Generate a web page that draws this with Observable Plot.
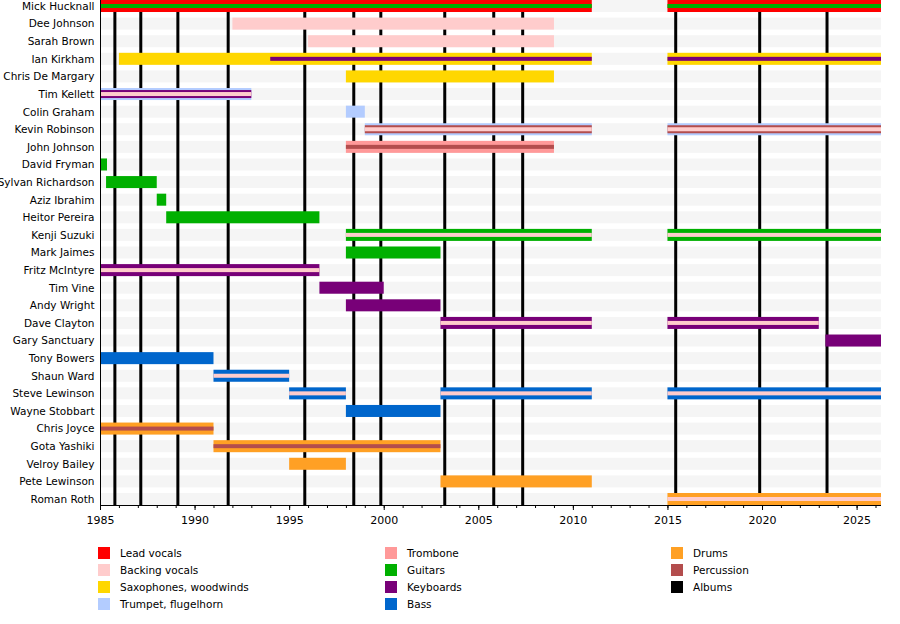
<!DOCTYPE html>
<html>
<head>
<meta charset="utf-8">
<script src="https://cdn.jsdelivr.net/npm/d3@7"></script>
<script src="https://cdn.jsdelivr.net/npm/@observablehq/plot@0.6"></script>
<style>
  body { margin: 0; background: #fff; font-family: "DejaVu Sans", sans-serif; }
  #wrap { position: relative; width: 900px; height: 624px; overflow: hidden; }
  #legend { position: absolute; left: 0; top: 547px; width: 900px; height: 70px; }
  .item { position: absolute; height: 12px; display: flex; align-items: center; font-size: 10.5px; color: #000; white-space: nowrap; }
  .sw { width: 12px; height: 12px; margin-right: 10px; flex: none; }
</style>
</head>
<body>
<div id="wrap">
  <div id="chart"></div>
  <div id="legend"></div>
</div>
<script>
// Band members, top to bottom
const members = [
  "Mick Hucknall", "Dee Johnson", "Sarah Brown", "Ian Kirkham", "Chris De Margary",
  "Tim Kellett", "Colin Graham", "Kevin Robinson", "John Johnson", "David Fryman",
  "Sylvan Richardson", "Aziz Ibrahim", "Heitor Pereira", "Kenji Suzuki", "Mark Jaimes",
  "Fritz McIntyre", "Tim Vine", "Andy Wright", "Dave Clayton", "Gary Sanctuary",
  "Tony Bowers", "Shaun Ward", "Steve Lewinson", "Wayne Stobbart", "Chris Joyce",
  "Gota Yashiki", "Velroy Bailey", "Pete Lewinson", "Roman Roth"
];

// Roles and their colours
const roles = [
  "Lead vocals", "Backing vocals", "Saxophones, woodwinds", "Trumpet, flugelhorn",
  "Trombone", "Guitars", "Keyboards", "Bass",
  "Drums", "Percussion", "Albums"
];
const roleColors = [
  "#ff0000", "#ffcccc", "#ffd700", "#b3ccff",
  "#ff9999", "#00b000", "#780078", "#0066cc",
  "#ffa024", "#b34d4d", "#000000"
];

// Studio album release dates (fractional years)
const albumYears = [
  1985.76, 1987.13, 1989.09, 1991.75, 1995.8, 1998.39, 1999.82,
  2003.2, 2005.79, 2007.32, 2015.41, 2019.85, 2023.41
];

const startYear = 1985;
const present = 2026.29;

// Primary role of each stint: [member, role, from, to]
const mainSpans = [
  ["Mick Hucknall", "Lead vocals", 1985, 2011],
  ["Mick Hucknall", "Lead vocals", 2015, present],
  ["Dee Johnson", "Backing vocals", 1992, 2009],
  ["Sarah Brown", "Backing vocals", 1996, 2009],
  ["Ian Kirkham", "Saxophones, woodwinds", 1986, 2011],
  ["Ian Kirkham", "Saxophones, woodwinds", 2015, present],
  ["Chris De Margary", "Saxophones, woodwinds", 1998, 2009],
  ["Tim Kellett", "Trumpet, flugelhorn", 1985, 1993],
  ["Colin Graham", "Trumpet, flugelhorn", 1998, 1999],
  ["Kevin Robinson", "Trumpet, flugelhorn", 1999, 2011],
  ["Kevin Robinson", "Trumpet, flugelhorn", 2015, present],
  ["John Johnson", "Trombone", 1998, 2009],
  ["David Fryman", "Guitars", 1985, 1985.37],
  ["Sylvan Richardson", "Guitars", 1985.32, 1988],
  ["Aziz Ibrahim", "Guitars", 1988, 1988.5],
  ["Heitor Pereira", "Guitars", 1988.5, 1996.6],
  ["Kenji Suzuki", "Guitars", 1998, 2011],
  ["Kenji Suzuki", "Guitars", 2015, present],
  ["Mark Jaimes", "Guitars", 1998, 2003],
  ["Fritz McIntyre", "Keyboards", 1985, 1996.6],
  ["Tim Vine", "Keyboards", 1996.6, 2000],
  ["Andy Wright", "Keyboards", 1998, 2003],
  ["Dave Clayton", "Keyboards", 2003, 2011],
  ["Dave Clayton", "Keyboards", 2015, 2023],
  ["Gary Sanctuary", "Keyboards", 2023.35, present],
  ["Tony Bowers", "Bass", 1985, 1991],
  ["Shaun Ward", "Bass", 1991, 1995],
  ["Steve Lewinson", "Bass", 1995, 1998],
  ["Steve Lewinson", "Bass", 2003, 2011],
  ["Steve Lewinson", "Bass", 2015, present],
  ["Wayne Stobbart", "Bass", 1998, 2003],
  ["Chris Joyce", "Drums", 1985, 1991],
  ["Gota Yashiki", "Drums", 1991, 2003],
  ["Velroy Bailey", "Drums", 1995, 1998],
  ["Pete Lewinson", "Drums", 2003, 2011],
  ["Roman Roth", "Drums", 2015, present]
];

// Second role (for members with three roles)
const secondSpans = [
  ["Tim Kellett", "Keyboards", 1985, 1993],
  ["Kevin Robinson", "Percussion", 1999, 2011],
  ["Kevin Robinson", "Percussion", 2015, present]
];

// Innermost extra role
const innerSpans = [
  ["Mick Hucknall", "Guitars", 1985, 2011],
  ["Mick Hucknall", "Guitars", 2015, present],
  ["Ian Kirkham", "Keyboards", 1994, 2011],
  ["Ian Kirkham", "Keyboards", 2015, present],
  ["Tim Kellett", "Backing vocals", 1985, 1993],
  ["Kevin Robinson", "Backing vocals", 1999, 2011],
  ["Kevin Robinson", "Backing vocals", 2015, present],
  ["John Johnson", "Percussion", 1998, 2009],
  ["Kenji Suzuki", "Backing vocals", 1998, 2011],
  ["Kenji Suzuki", "Backing vocals", 2015, present],
  ["Fritz McIntyre", "Backing vocals", 1985, 1996.6],
  ["Dave Clayton", "Backing vocals", 2003, 2011],
  ["Dave Clayton", "Backing vocals", 2015, 2023],
  ["Shaun Ward", "Backing vocals", 1991, 1995],
  ["Steve Lewinson", "Backing vocals", 1995, 1998],
  ["Steve Lewinson", "Backing vocals", 2003, 2011],
  ["Steve Lewinson", "Backing vocals", 2015, present],
  ["Chris Joyce", "Percussion", 1985, 1991],
  ["Gota Yashiki", "Percussion", 1991, 2003],
  ["Roman Roth", "Backing vocals", 2015, present]
];

const majorTicks = d3.range(1985, 2026, 5);
const minorTicks = d3.range(1985, 2027);

const span = {y: d => d[0], x1: d => d[2], x2: d => d[3], fill: d => d[1]};

// Bottom axis line, spanning the plot frame
const baseline = (index, scales, values, dims) => {
  const y = dims.height - dims.marginBottom + 0.5;
  return d3.create("svg:line")
    .attr("x1", dims.marginLeft)
    .attr("x2", dims.width - dims.marginRight)
    .attr("y1", y).attr("y2", y)
    .attr("stroke", "black")
    .node();
};

const chart = Plot.plot({
  width: 900,
  height: 530,
  marginLeft: 100,
  marginRight: 19,
  marginTop: 0,
  marginBottom: 25,
  style: {fontFamily: "DejaVu Sans", fontSize: "11px", color: "black", background: "white"},
  x: {domain: [startYear, present], label: null},
  y: {domain: members, range: [0, 505], paddingInner: 0.318, paddingOuter: 0, align: 0, round: false, label: null},
  color: {domain: roles, range: roleColors},
  marks: [
    Plot.barX(members, {y: d => d, x1: () => startYear, x2: () => present, fill: "#f5f5f5"}),
    Plot.ruleX(albumYears, {x: d => d, stroke: () => "Albums", strokeWidth: 3}),
    Plot.barX(mainSpans, span),
    Plot.barX(secondSpans, {...span, insetTop: 2, insetBottom: 2}),
    Plot.barX(innerSpans, {...span, insetTop: 4, insetBottom: 4}),
    Plot.ruleX([startYear], {stroke: "black", strokeWidth: 1}),
    baseline,
    Plot.axisX(minorTicks, {tickSize: 3, tickFormat: () => "", label: null}),
    Plot.axisX(majorTicks, {tickSize: 5, tickPadding: 6, tickFormat: d => String(d), fontSize: 11, label: null}),
    Plot.axisY({tickSize: 0, tickPadding: 6, fontSize: 10.5, label: null})
  ]
});
document.getElementById("chart").appendChild(chart);

// Legend: three columns of four entries
const legend = document.getElementById("legend");
const colLeft = [98, 385, 671];
roles.forEach((r, i) => {
  const item = document.createElement("div");
  item.className = "item";
  item.style.left = colLeft[Math.floor(i / 4)] + "px";
  item.style.top = (i % 4) * 17 + "px";
  const sw = document.createElement("div");
  sw.className = "sw";
  sw.style.background = roleColors[i];
  const label = document.createElement("span");
  label.textContent = r;
  item.appendChild(sw);
  item.appendChild(label);
  legend.appendChild(item);
});
</script>
</body>
</html>
